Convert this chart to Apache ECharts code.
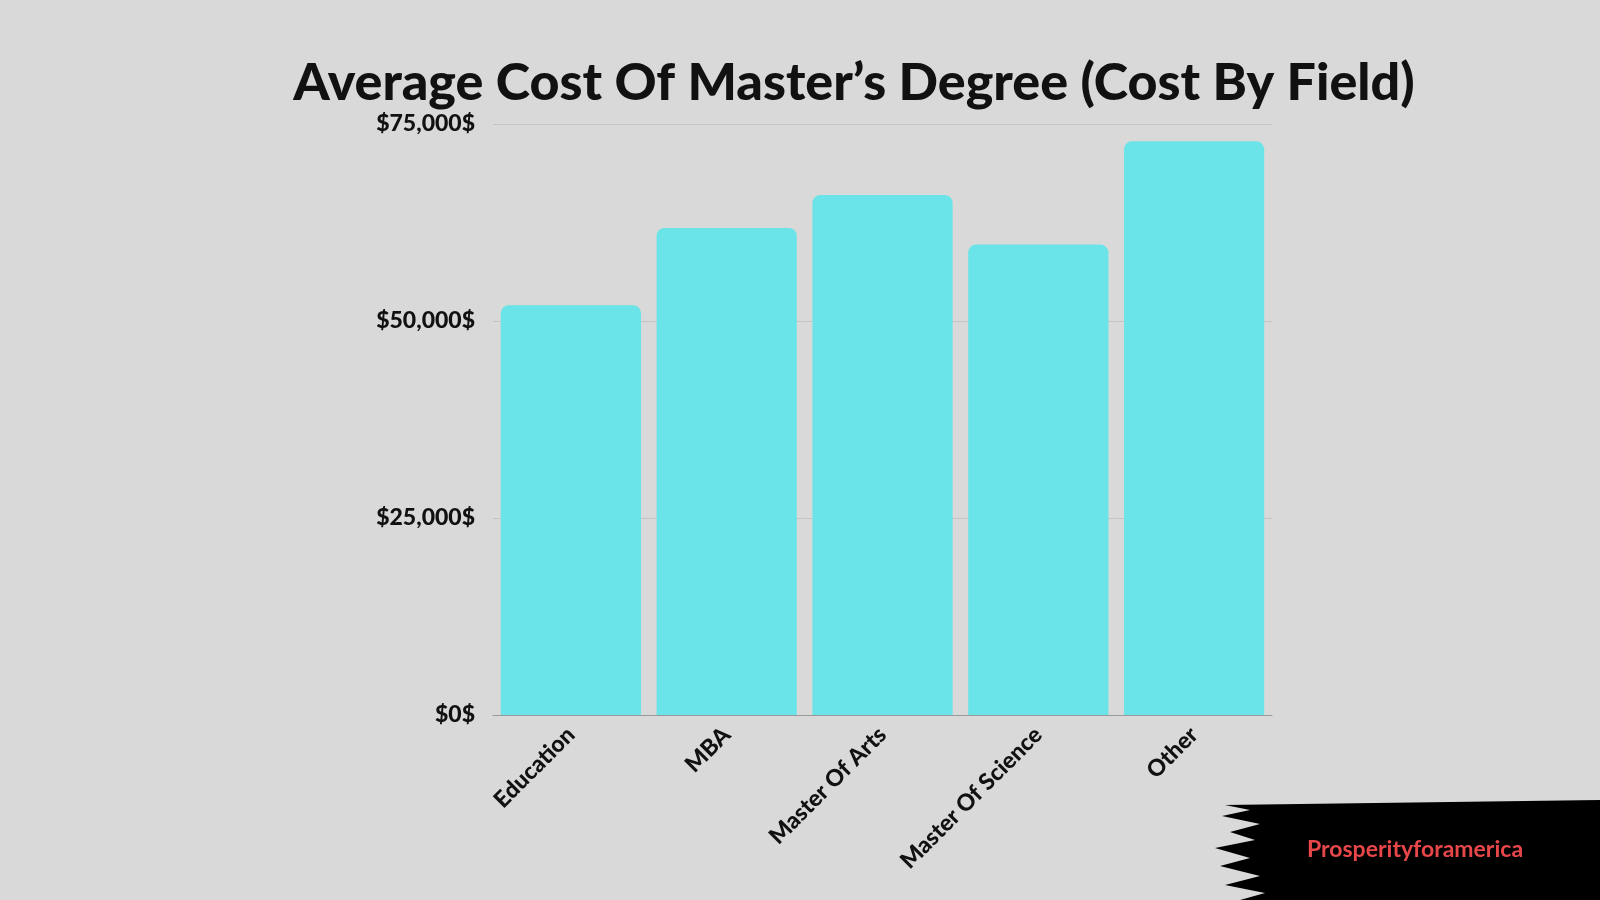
<!DOCTYPE html>
<html><head><meta charset="utf-8">
<script src="https://cdn.jsdelivr.net/npm/echarts@6/dist/echarts.min.js"></script>
<style>html,body{margin:0;background:#d9d9d9}#c{width:1600px;height:900px}</style>
</head><body><div id="c"></div>
<script>
const categories = ["Education","MBA","Master Of Arts","Master Of Science","Other"];
const costs = [52000, 61800, 66000, 59700, 72800];
const chart = echarts.init(document.getElementById('c'));
const jag = [[1225,805],[1600,800],[1600,900],[1240,900],[1265,893],[1225,885],[1260,876],[1220,866],[1250,858],[1215,848],[1255,840],[1230,832],[1260,824],[1222,816],[1250,810]];
chart.setOption({
  backgroundColor:'#d9d9d9',
  title:{text:'Average Cost Of Master’s Degree (Cost By Field)',left:849,top:52,textAlign:'center',
    textStyle:{fontFamily:'Lato',fontWeight:900,fontSize:52,color:'#111'}},
  grid:{left:493,right:328,top:124,bottom:185},
  xAxis:{type:'category',data:categories,
    axisLine:{lineStyle:{color:'#999'}},axisTick:{show:false},
    axisLabel:{rotate:45,fontFamily:'Lato',fontWeight:900,fontSize:23,color:'#111',margin:16,interval:0}},
  yAxis:{type:'value',min:0,max:75000,interval:25000,
    axisLabel:{formatter:v=>'$'+v.toLocaleString('en-US')+'$',fontFamily:'Lato',fontWeight:900,fontSize:23,color:'#111',margin:18},
    splitLine:{lineStyle:{color:'#c4c4c4'}}},
  series:[{type:'bar',data:costs,barCategoryGap:'10%',
    itemStyle:{color:'#6ae4e8',borderRadius:[8,8,0,0]}}],
  graphic:[
    {type:'polygon',shape:{points:jag},style:{fill:'#000'}},
    {type:'text',left:1307,top:838,style:{text:'Prosperityforamerica',fill:'#e8474a',font:'bold 23px Lato'}}
  ]
});
</script></body></html>
